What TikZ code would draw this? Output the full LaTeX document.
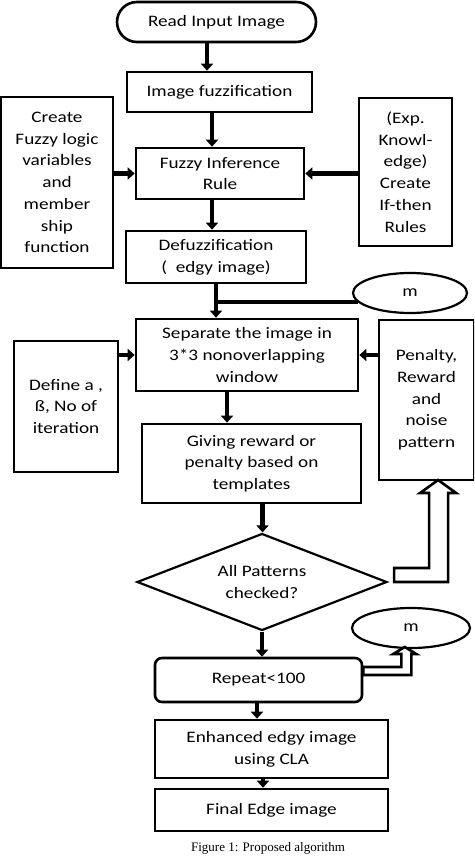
\documentclass[tikz,border=0pt]{standalone}
\usepackage{fontspec}
\setmainfont{Carlito}[FakeStretch=1.2]
\newfontfamily\capfont{Liberation Serif}
\usepackage{tikz}
\usetikzlibrary{arrows.meta,shapes.geometric}
\tikzset{
  flownode/.style={
    rectangle, draw=black, line width=2.6pt,
    fill=white, align=center, inner sep=0pt,
    font=\fontsize{16}{21.7}\selectfont
  },
  termnode/.style={flownode, rounded corners=20pt},
  roundnode/.style={flownode, rounded corners=7pt},
  decnode/.style={
    diamond, draw=black, line width=2.2pt, fill=white,
    align=center, inner sep=0pt, shape aspect=2.58,
    font=\fontsize{16}{21.7}\selectfont
  },
  mnode/.style={
    ellipse, draw=black, line width=2.2pt, fill=white,
    inner sep=0pt, font=\fontsize{16}{21.7}\selectfont
  },
  flowarrow/.style={-{Triangle[length=7pt,width=12pt]}, line width=4.5pt},
  flowline/.style={line width=4.5pt},
  hollowarrow/.style={line width=2.6pt, fill=white, line join=miter},
}

\begin{document}
\begin{tikzpicture}[x=1pt, y=-1pt]
  \useasboundingbox (0,0) rectangle (474,858);
  \clip (0,0) rectangle (474,858);

  % main column
  \node[termnode, minimum width=199pt, minimum height=40pt] (read) at (216.5,22) {Read Input Image};
  \node[flownode, minimum width=185pt, minimum height=40pt] (fuzz) at (219.5,92) {Image fuzzification};
  \node[flownode, minimum width=168pt, minimum height=51pt] (fir) at (220,173.5) {Fuzzy Inference\\ Rule};
  \node[flownode, minimum width=180pt, minimum height=52pt] (defuzz) at (216,257) {Defuzzification\\ (\ \ edgy image)};
  \node[flownode, minimum width=222pt, minimum height=72pt] (sep) at (247,355) {Separate the image in\\ 3*3 nonoverlapping\\ window};
  \node[flownode, minimum width=219pt, minimum height=79pt] (give) at (251.5,463.5) {Giving reward or\\ penalty based on\\ templates};
  \node[decnode, minimum width=250pt, minimum height=97pt] (check) at (262,582) {All Patterns\\ checked?};
  \node[roundnode, minimum width=207pt, minimum height=44pt] (repeat) at (258.5,680) {Repeat<100};
  \node[flownode, minimum width=233pt, minimum height=58pt] (enh) at (271.5,749) {Enhanced edgy image\\ using CLA};
  \node[flownode, minimum width=233pt, minimum height=42pt] (final) at (271.5,810) {Final Edge image};

  % side boxes
  \node[flownode, minimum width=112pt, minimum height=171pt] (mfvar) at (57,182.5) {Create\\ Fuzzy logic\\ variables\\ and\\ member\\ ship\\ function};
  \node[flownode, minimum width=93pt, minimum height=148pt] (rules) at (405.5,172) {(Exp.\\ Knowl-\\ edge)\\ Create\\ If-then\\ Rules};
  \node[flownode, minimum width=104pt, minimum height=131pt] (define) at (66,406.5) {Define a ,\\ ß, No of\\ iteration};
  \node[flownode, minimum width=95pt, minimum height=160pt] (penalty) at (426.5,400) {Penalty,\\ Reward\\ and\\ noise\\ pattern};
  \node[mnode, minimum width=114pt, minimum height=40pt] (m1) at (410,293) {m};
  \node[mnode, minimum width=118pt, minimum height=40pt] (m2) at (411,628) {m};

  \node[font=\capfont\fontsize{13}{15}\selectfont, anchor=north, inner sep=0pt] (cap) at (268,842) {Figure 1: Proposed algorithm};

  % connectors
  \draw[flowarrow] ([xshift=-9.5pt]read.south) -- ([xshift=-12.5pt]fuzz.north);
  \draw[flowarrow] ([xshift=-7.5pt]fuzz.south) -- ([xshift=-8pt]fir.north);
  \draw[flowarrow] (mfvar.east |- fir.west) -- (fir.west);
  \draw[flowarrow] (rules.west |- fir.east) -- (fir.east);
  \draw[flowarrow] ([xshift=-8pt]fir.south) -- ([xshift=-4pt]defuzz.north);
  \draw[flowarrow] (defuzz.south) -- (defuzz.south |- sep.north);
  \draw[flowline] (m1.190) -- (m1.190 -| defuzz.south);
  \draw[flowarrow] (define.east |- sep.west) -- (sep.west);
  \draw[flowarrow] (penalty.west |- sep.east) -- (sep.east);
  \draw[flowarrow] ([xshift=-20pt]sep.south) -- ([xshift=-20pt]sep.south |- give.north);
  \draw[flowarrow] ([xshift=11pt]give.south) -- ([xshift=11pt]give.south |- check.north);
  \draw[flowarrow] (check.south) -- (check.south |- repeat.north);
  \draw[flowarrow] ([xshift=-1.5pt]repeat.south) -- ([xshift=-1.5pt]repeat.south |- enh.north);
  \draw[flowarrow] ([xshift=-8.5pt]enh.south) -- ([xshift=-8.5pt]enh.north |- final.north);

  % hollow arrows
  \draw[hollowarrow] ([xshift=6pt,yshift=14pt]check.east) -- ++(35,0) -- ++(0,-75) -- ++(-9,0)
    -- ++(18,-13) -- ++(18,13) -- ++(-8,0) -- ++(0,89) -- ++(-54,0) -- cycle;
  \draw[hollowarrow] ([yshift=13pt]repeat.east) -- ++(38,0) -- ++(0,-13) -- ++(-8,0)
    -- ++(11.5,-7) -- ++(11.5,7) -- ++(-5,0) -- ++(0,21) -- ++(-48,0) -- cycle;
\end{tikzpicture}
\end{document}
